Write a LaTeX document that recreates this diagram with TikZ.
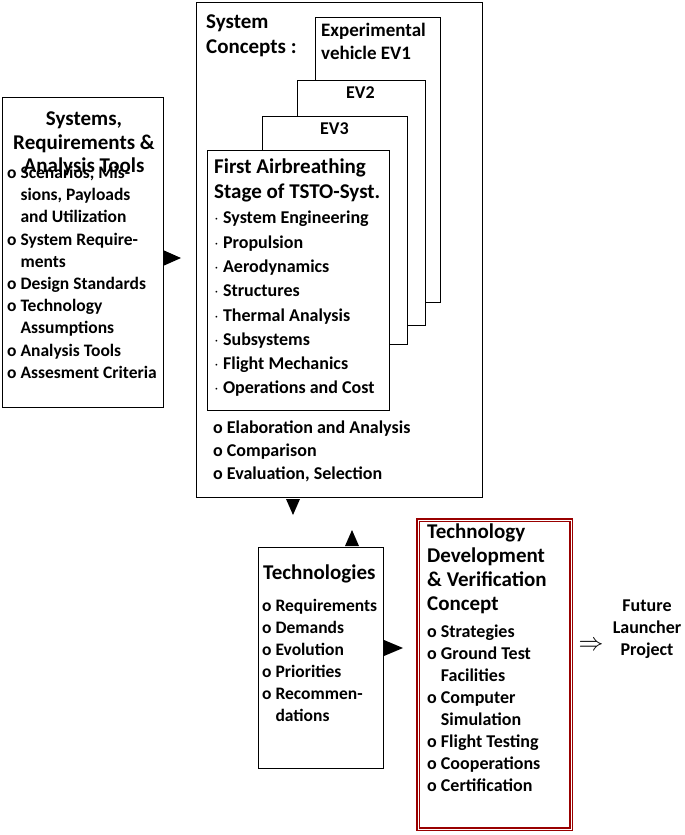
\documentclass[tikz,border=0pt]{standalone}
\usepackage{fontspec}
\setmainfont{Carlito}
\begin{document}
\begin{tikzpicture}[x=1pt,y=-1pt,
 bx/.style={draw,line width=1.3pt,fill=white},
 tx/.style={anchor=north west,align=left,font=\bfseries\fontsize{18}{22}\selectfont,inner sep=0pt},
 ttl/.style={anchor=north,align=center,font=\bfseries\fontsize{21}{23.5}\selectfont,inner sep=0pt},
 tri/.style={fill=black}]
\useasboundingbox (0,0) rectangle (685,835);
\node[bx,minimum width=161pt,minimum height=310pt,anchor=north west] (left) at (2,97) {};
\node[bx,minimum width=286pt,minimum height=495pt,anchor=north west] (big) at (196,2) {};
\node[bx,minimum width=125pt,minimum height=285pt,anchor=north west] (ev1) at (315,17) {};
\node[bx,minimum width=128pt,minimum height=245pt,anchor=north west] (ev2) at (297,80) {};
\node[bx,minimum width=145pt,minimum height=228pt,anchor=north west] (ev3) at (262,116) {};
\node[bx,minimum width=182pt,minimum height=260pt,anchor=north west] (first) at (207,150) {};
\node[bx,minimum width=125pt,minimum height=221pt,anchor=north west] (tech) at (258,547) {};
\node[draw=red!60!black,line width=2pt,double=white,double distance=0.6pt,fill=white,minimum width=153pt,minimum height=309pt,anchor=north west] (tdv) at (417,519) {};
% texts
\node[ttl] (lt) at (84,112) {Systems,\\Requirements \&\\Analysis Tools};
\node[tx,font=\bfseries\fontsize{17.5}{22.2}\selectfont] (ll) at (7,166) {o Scenarios, Mis-\\\phantom{o }sions, Payloads\\\phantom{o }and Utilization\\o System Require-\\\phantom{o }ments\\o Design Standards\\o Technology\\\phantom{o }Assumptions\\o Analysis Tools\\o Assesment Criteria};
\node[tx,font=\bfseries\fontsize{21}{25}\selectfont] (sc) at (206,15) {System\\Concepts :};
\node[tx,font=\bfseries\fontsize{19}{23}\selectfont] (e1) at (321,23) {Experimental\\vehicle EV1};
\node[tx] (e2) at (346,86) {EV2};
\node[tx] (e3) at (320,122) {EV3};
\node[tx,font=\bfseries\fontsize{21}{25}\selectfont] (ft) at (214,159) {First Airbreathing\\Stage of TSTO-Syst.};
\node[tx,font=\bfseries\fontsize{18}{24.3}\selectfont] (fl) at (214,211) {$\cdot$ System Engineering\\$\cdot$ Propulsion\\$\cdot$ Aerodynamics\\$\cdot$ Structures\\$\cdot$ Thermal Analysis\\$\cdot$ Subsystems\\$\cdot$ Flight Mechanics\\$\cdot$ Operations and Cost};
\node[tx,font=\bfseries\fontsize{18}{23}\selectfont] (bl) at (213,421) {o Elaboration and Analysis\\o Comparison\\o Evaluation, Selection};
\node[tx,font=\bfseries\fontsize{21}{24}\selectfont] (tt) at (263,565) {Technologies};
\node[tx,font=\bfseries\fontsize{17.5}{22}\selectfont] (tl) at (262,599) {o Requirements\\o Demands\\o Evolution\\o Priorities\\o Recommen-\\\phantom{o }dations};
\node[tx,font=\bfseries\fontsize{21}{24}\selectfont] (dt) at (427,524) {Technology\\Development\\\& Verification\\Concept};
\node[tx,font=\bfseries\fontsize{18}{22}\selectfont] (dl) at (427,625) {o Strategies\\o Ground Test\\\phantom{o }Facilities\\o Computer\\\phantom{o }Simulation\\o Flight Testing\\o Cooperations\\o Certification};
\node[tx,align=center,anchor=north] (fu) at (647,600) {Future\\Launcher\\Project};
\node[font=\fontsize{26}{26}\selectfont,inner sep=0pt] (ar) at (591,646) {$\Rightarrow$};
% triangles
\fill[tri] (163,250) -- (181,258) -- (163,266) -- cycle;
\fill[tri] (286,499) -- (300,499) -- (293,515) -- cycle;
\fill[tri] (345,546) -- (359,546) -- (352,530) -- cycle;
\fill[tri] (384,640) -- (403,648) -- (384,656) -- cycle;
\end{tikzpicture}
\end{document}
